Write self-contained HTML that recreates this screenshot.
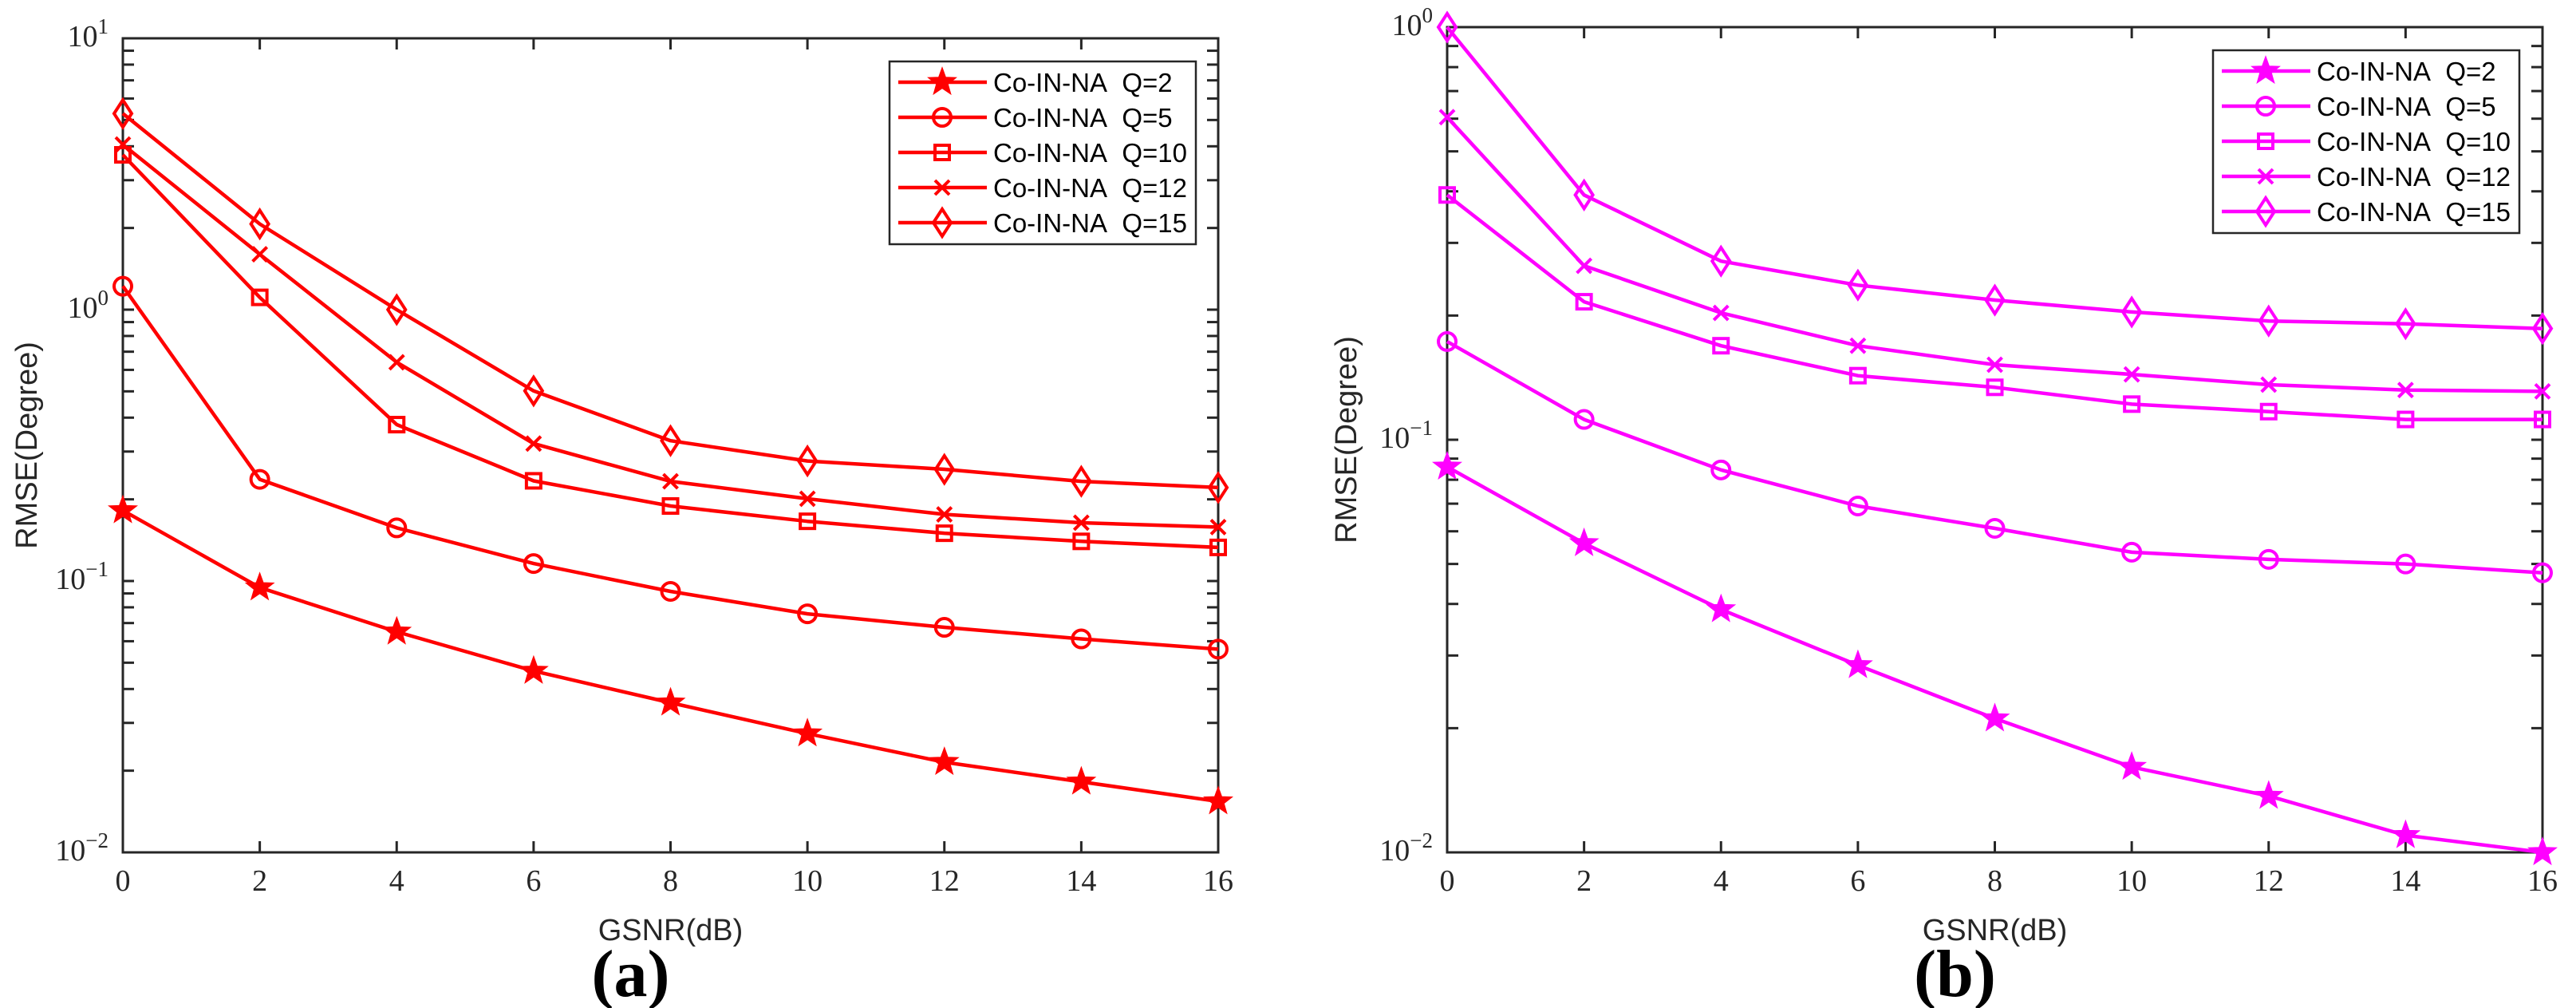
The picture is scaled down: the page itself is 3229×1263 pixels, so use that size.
<!DOCTYPE html>
<html><head><meta charset="utf-8"><style>
body{margin:0;background:#fff}
svg{display:block}
.tk{font-family:"Liberation Serif",serif;font-size:38px;fill:#262626}
.lab{font-family:"Liberation Sans",sans-serif;font-size:38px;fill:#262626}
.lg{font-family:"Liberation Sans",sans-serif;font-size:33px;fill:#000;white-space:pre}
</style></head><body>
<svg id="chart" width="3229" height="1263" viewBox="0 0 3229 1263" xmlns="http://www.w3.org/2000/svg"></svg>
<script>
const xValues=[0,2,4,6,8,10,12,14,16];
const seriesNames=["Co-IN-NA  Q=2","Co-IN-NA  Q=5","Co-IN-NA  Q=10","Co-IN-NA  Q=12","Co-IN-NA  Q=15"];
const markers=["star","circle","square","x","diamond"];
const aQ2=[0.182,0.0946,0.065,0.0466,0.0356,0.0274,0.0215,0.0182,0.0154];
const aQ5=[1.22,0.237,0.157,0.116,0.0916,0.0757,0.0675,0.0612,0.0561];
const aQ10=[3.72,1.11,0.377,0.234,0.189,0.166,0.150,0.140,0.133];
const aQ12=[4.06,1.60,0.64,0.321,0.233,0.201,0.176,0.164,0.158];
const aQ15=[5.28,2.07,1.0,0.502,0.329,0.277,0.258,0.233,0.221];
const bQ2=[0.086,0.0561,0.0388,0.0284,0.0211,0.0161,0.0137,0.011,0.01];
const bQ5=[0.173,0.112,0.0845,0.0691,0.061,0.0534,0.0513,0.050,0.0476];
const bQ10=[0.392,0.216,0.169,0.143,0.134,0.122,0.117,0.112,0.112];
const bQ12=[0.605,0.264,0.203,0.169,0.152,0.144,0.136,0.132,0.131];
const bQ15=[1.0,0.392,0.271,0.237,0.218,0.204,0.194,0.191,0.186];
const aDecades=[-2,-1,0,1];
const bDecades=[-2,-1,0];

const NS="http://www.w3.org/2000/svg";
const svg=document.getElementById('chart');
function mk(tag,attrs,parent){const e=document.createElementNS(NS,tag);for(const k in attrs)e.setAttribute(k,attrs[k]);(parent||svg).appendChild(e);return e;}

function marker(g,type,cx,cy,color){
  let e;
  if(type==="star"){
    let p=[];for(let i=0;i<10;i++){const r=i%2?7:17;const a=-Math.PI/2+i*Math.PI/5;p.push((cx+r*Math.cos(a)).toFixed(1)+","+(cy+r*Math.sin(a)).toFixed(1));}
    e=mk('polygon',{points:p.join(' '),fill:color,stroke:color,'stroke-width':2},g);
  }else if(type==="circle"){
    e=mk('circle',{cx:cx,cy:cy,r:11,fill:'none',stroke:color,'stroke-width':4},g);
  }else if(type==="square"){
    e=mk('rect',{x:cx-9,y:cy-9,width:18,height:18,fill:'none',stroke:color,'stroke-width':4},g);
  }else if(type==="x"){
    e=mk('path',{d:`M${cx-9},${cy-9}L${cx+9},${cy+9}M${cx-9},${cy+9}L${cx+9},${cy-9}`,stroke:color,'stroke-width':4,fill:'none'},g);
  }else{
    e=mk('polygon',{points:`${cx},${cy-17} ${cx+11},${cy} ${cx},${cy+17} ${cx-11},${cy}`,fill:'none',stroke:color,'stroke-width':4},g);
  }
  
  
}

function panel(cfg){
  const g=mk('g',{});
  
  
  const {x0,x1,yTop,yBot,dMin,dMax,color}=cfg;
  const sx=v=>x0+(v-xValues[0])/(xValues[xValues.length-1]-xValues[0])*(x1-x0);
  const sy=v=>yBot-(Math.log10(v)-dMin)/(dMax-dMin)*(yBot-yTop);
  const tg=mk('g',{stroke:'#262626','stroke-width':3},g);
  
  
  xValues.forEach(v=>{const x=sx(v);
    mk('line',{x1:x,y1:yBot,x2:x,y2:yBot-14},tg);mk('line',{x1:x,y1:yTop,x2:x,y2:yTop+14},tg);
    const t=mk('text',{x:x,y:yBot+48,'text-anchor':'middle',class:'tk'},g);t.textContent=v;
    
  });
  for(let d=dMin;d<dMax;d++){for(let m=2;m<=9;m++){const y=sy(m*Math.pow(10,d));
    mk('line',{x1:x0,y1:y,x2:x0+14,y2:y},tg);mk('line',{x1:x1,y1:y,x2:x1-14,y2:y},tg);}}
  cfg.decades.forEach(d=>{const y=sy(Math.pow(10,d));
    mk('line',{x1:x0,y1:y,x2:x0+14,y2:y},tg);mk('line',{x1:x1,y1:y,x2:x1-14,y2:y},tg);
    const t=mk('text',{x:x0-18,y:y+10,'text-anchor':'end',class:'tk'},g);
    
    t.textContent='10';const s=mk('tspan',{dy:-16,'font-size':'27'},t);s.textContent=(d<0?'\u2212':'')+Math.abs(d);
  });
  const box=mk('rect',{x:x0,y:yTop,width:x1-x0,height:yBot-yTop,fill:'none',stroke:'#262626','stroke-width':3},g);
  
  cfg.series.forEach((vals,i)=>{
    const sg=mk('g',{},g);
    
    
    const pts=vals.map((v,j)=>sx(xValues[j]).toFixed(1)+','+sy(v).toFixed(1)).join(' ');
    mk('polyline',{points:pts,fill:'none',stroke:color,'stroke-width':4.5,'stroke-linejoin':'round'},sg);
    vals.forEach((v,j)=>marker(sg,markers[i],sx(xValues[j]),sy(v),color));
  });
  const xl=mk('text',{x:(x0+x1)/2,y:yBot+110,'text-anchor':'middle',class:'lab'},g);xl.textContent='GSNR(dB)';
  
  const ylx=cfg.ylabX,yly=(yTop+yBot)/2;
  const yl=mk('text',{x:ylx,y:yly,'text-anchor':'middle',class:'lab',transform:`rotate(-90 ${ylx} ${yly})`},g);yl.textContent='RMSE(Degree)';
  
  const cap=mk('text',{x:(x0+x1)/2-50,y:1248,'text-anchor':'middle','font-family':'"Liberation Serif",serif','font-size':'84','font-weight':'bold',fill:'#000'},g);
  cap.textContent=cfg.caption;
  const lg=mk('g',{},g);
  const L=cfg.legX,T=cfg.legY;
  mk('rect',{x:L,y:T,width:384,height:229,fill:'#fff',stroke:'#262626','stroke-width':2.5},lg);
  seriesNames.forEach((n,i)=>{const y=T+26+i*44;
    const eg=mk('g',{},lg);
    mk('line',{x1:L+11,y1:y,x2:L+122,y2:y,stroke:color,'stroke-width':4.5},eg);
    marker(eg,markers[i],L+66,y,color);
    const t=mk('text',{x:L+130,y:y+12,class:'lg','xml:space':'preserve'},eg);t.textContent=n.replace('  ','\u00a0\u00a0');
  });
}
panel({name:'panel-a',x0:154,x1:1527,yTop:48,yBot:1068,dMin:-2,dMax:1,color:'#ff0000',decades:aDecades,
  series:[aQ2,aQ5,aQ10,aQ12,aQ15],ylabX:46,caption:'(a)',legX:1115,legY:77});
panel({name:'panel-b',x0:1814,x1:3187,yTop:34,yBot:1068,dMin:-2,dMax:0,color:'#ff00ff',decades:bDecades,
  series:[bQ2,bQ5,bQ10,bQ12,bQ15],ylabX:1700,caption:'(b)',legX:2774,legY:63});
</script>
</body></html>
